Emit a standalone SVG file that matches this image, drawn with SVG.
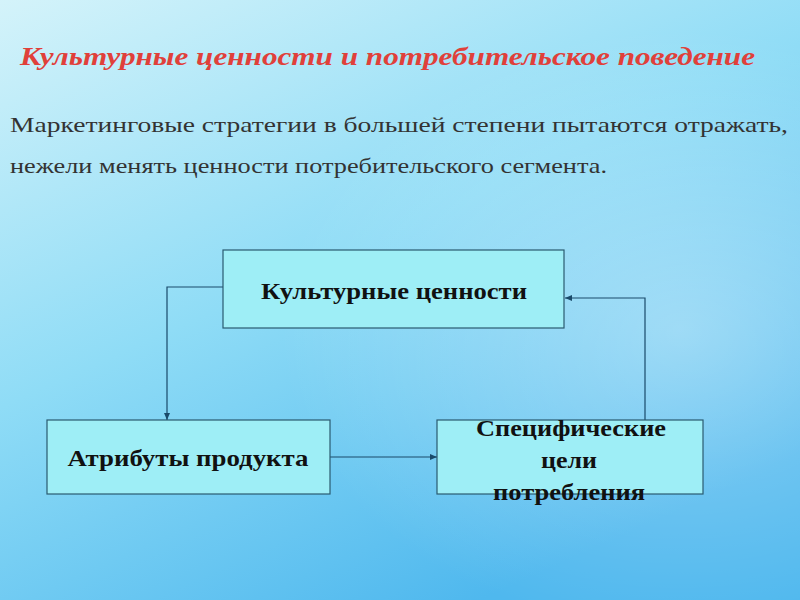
<svg xmlns="http://www.w3.org/2000/svg" width="800" height="600" viewBox="0 0 800 600">
<defs>
<linearGradient id="bg" x1="0" y1="0" x2="0.6" y2="1">
<stop offset="0" stop-color="#d4f3fa"/>
<stop offset="0.5" stop-color="#8fdcf6"/>
<stop offset="1" stop-color="#4fb8ee"/>
</linearGradient>
<radialGradient id="glow" cx="0.85" cy="0.55" r="0.5">
<stop offset="0" stop-color="#ffffff" stop-opacity="0.35"/>
<stop offset="1" stop-color="#ffffff" stop-opacity="0"/>
</radialGradient>
<marker id="ar" markerWidth="8" markerHeight="8" refX="7" refY="4" orient="auto" markerUnits="userSpaceOnUse">
<path d="M0,1 L7,4 L0,7 z" fill="#1a4a6a"/>
</marker>
<style>
.box{fill:#9eeef6;stroke:#2a5a70;stroke-width:1.2}
.lbl{font-family:"Liberation Serif",serif;font-weight:bold;font-size:24px;fill:#111;text-anchor:middle}
.con{fill:none;stroke:#1a4a6a;stroke-width:1.2;marker-end:url(#ar)}
.body{font-family:"Liberation Serif",serif;font-size:22px;fill:#333}
</style>
</defs>
<rect width="800" height="600" fill="url(#bg)"/>
<rect width="800" height="600" fill="url(#glow)"/>
<text x="20" y="65" font-family="Liberation Serif,serif" font-style="italic" font-weight="bold" font-size="26" fill="#e0403a" textLength="735" lengthAdjust="spacingAndGlyphs">Культурные ценности и потребительское поведение</text>
<text class="body" x="10" y="132" textLength="778" lengthAdjust="spacingAndGlyphs">Маркетинговые стратегии в большей степени пытаются отражать,</text>
<text class="body" x="10" y="173" textLength="597" lengthAdjust="spacingAndGlyphs">нежели менять ценности потребительского сегмента.</text>
<g id="connectors">
<path class="con" d="M223,287 H167 V420"/>
<path class="con" d="M645,420 V298 H565"/>
<path class="con" d="M330,457 H437"/>
</g>
<g id="n1"><rect class="box" x="223" y="250" width="341" height="78"/><text class="lbl" x="394" y="299" textLength="266" lengthAdjust="spacingAndGlyphs">Культурные ценности</text></g>
<g id="n2"><rect class="box" x="47" y="420" width="283" height="74"/><text class="lbl" x="188" y="466" textLength="241" lengthAdjust="spacingAndGlyphs">Атрибуты продукта</text></g>
<g id="n3"><rect class="box" x="437" y="420" width="266" height="74"/><text class="lbl" x="571" y="436" textLength="190" lengthAdjust="spacingAndGlyphs">Специфические</text><text class="lbl" x="569" y="468" textLength="56" lengthAdjust="spacingAndGlyphs">цели</text><text class="lbl" x="569" y="500" textLength="152" lengthAdjust="spacingAndGlyphs">потребления</text></g>
</svg>
